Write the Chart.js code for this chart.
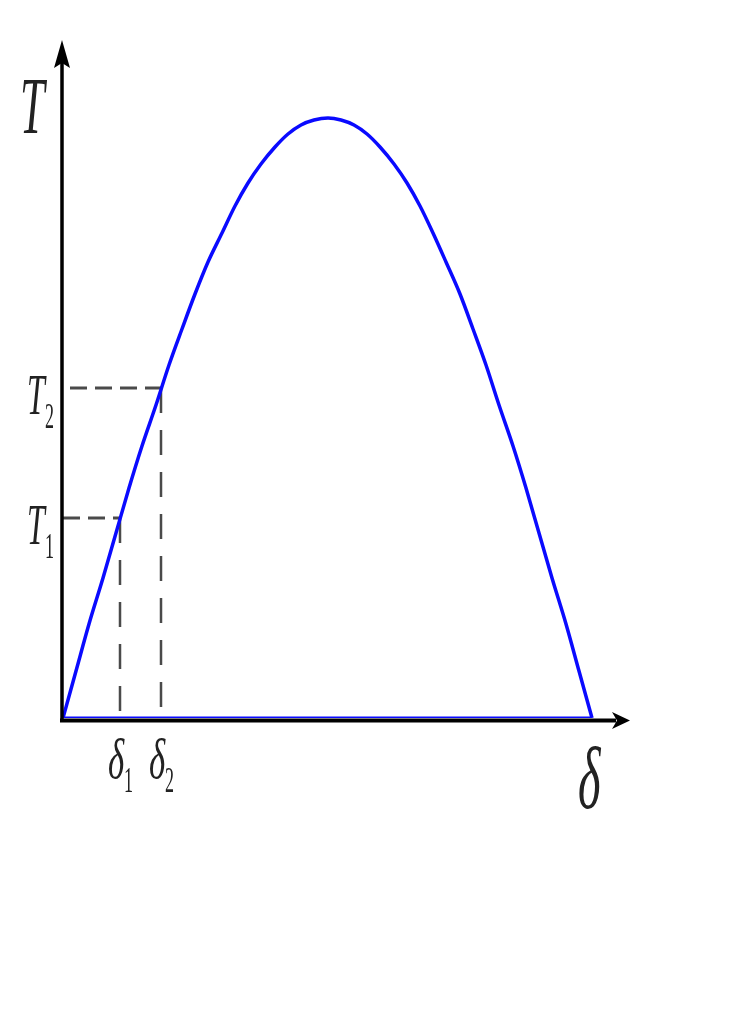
<!DOCTYPE html>
<html>
<head>
<meta charset="utf-8">
<script src="https://cdn.jsdelivr.net/npm/chart.js@4.4.1/dist/chart.umd.min.js"></script>
<style>
  html, body { margin: 0; padding: 0; background: #fff; }
  #wrap { width: 750px; height: 1024px; }
</style>
</head>
<body>
<div id="wrap"><canvas id="chart"></canvas></div>
<script>
// curve (delta in px-units from the origin, T in px-units up)
const deltaVals = [0, 13, 26, 40, 53, 66, 79, 93, 106, 119, 132, 145, 159, 172, 185, 198, 212, 225, 238, 251,
  265, 278, 291, 304, 317, 331, 344, 357, 370, 383, 397, 410, 423, 436, 450, 463, 476, 489, 503, 516, 529]
const torqueVals = [0, 47, 94, 140, 185, 230, 272, 313, 353, 389, 424, 456, 485, 512, 535, 554, 571, 584, 593, 598,
  600, 598, 593, 584, 571, 554, 535, 512, 485, 456, 424, 389, 353, 313, 272, 230, 185, 140, 94, 47, 0]

// marked operating points
const markDelta = [57, 98]
const markTorque = [200, 330]
const markNames = ["1", "2"]

const xMax = 567
const yMax = 678

const curve = deltaVals.map((d, i) => ({ x: d, y: torqueVals[i] }))
const baseline = [{ x: deltaVals[0], y: 0 }, { x: deltaVals[deltaVals.length - 1], y: 0 }]

const guideH = markDelta.map((d, i) => ({
  data: [{ x: i === 1 ? 7 : 0, y: markTorque[i] }, { x: d, y: markTorque[i] }],
  borderColor: "#4a4a4a",
  borderWidth: 3,
  borderDash: [17, 8],
  pointRadius: 0,
}))
const guideV = markDelta.map((d, i) => ({
  data: [{ x: d, y: markTorque[i] }, { x: d, y: 0 }],
  borderColor: "#4a4a4a",
  borderWidth: 2.5,
  borderDash: [25, 17],
  pointRadius: 0,
}))

const serif = "'Liberation Serif', 'DejaVu Serif', serif"

function italic(ctx, text, x, y, size, sx) {
  ctx.save()
  ctx.translate(x, y)
  ctx.scale(sx, 1)
  ctx.font = "italic " + size + "px " + serif
  ctx.fillText(text, 0, 0)
  ctx.restore()
}

function upright(ctx, text, x, y, size, sx) {
  ctx.save()
  ctx.translate(x, y)
  ctx.scale(sx, 1)
  ctx.font = size + "px " + serif
  ctx.fillText(text, 0, 0)
  ctx.restore()
}

const axesPlugin = {
  id: "axesPlugin",
  afterDatasetsDraw(chart) {
    const { ctx, scales } = chart
    const x0 = scales.x.getPixelForValue(0)
    const y0 = scales.y.getPixelForValue(0)
    const xEnd = scales.x.getPixelForValue(xMax)
    const yEnd = scales.y.getPixelForValue(yMax)

    ctx.save()
    ctx.strokeStyle = "#000"
    ctx.fillStyle = "#000"
    ctx.lineWidth = 3.5
    ctx.beginPath()
    ctx.moveTo(x0 - 1, y0 + 2)
    ctx.lineTo(x0 - 1, yEnd + 20)
    ctx.stroke()
    ctx.lineWidth = 4
    ctx.beginPath()
    ctx.moveTo(x0 - 3, y0 + 2.5)
    ctx.lineTo(xEnd - 14, y0 + 2.5)
    ctx.stroke()

    // arrow heads
    ctx.beginPath()
    ctx.moveTo(x0 - 1, yEnd)
    ctx.lineTo(x0 - 9, yEnd + 28)
    ctx.lineTo(x0 - 1, yEnd + 23)
    ctx.lineTo(x0 + 7, yEnd + 28)
    ctx.closePath()
    ctx.fill()
    ctx.beginPath()
    ctx.moveTo(xEnd, y0 + 2.5)
    ctx.lineTo(xEnd - 18, y0 - 6)
    ctx.lineTo(xEnd - 13, y0 + 2.5)
    ctx.lineTo(xEnd - 18, y0 + 11)
    ctx.closePath()
    ctx.fill()

    // labels
    ctx.fillStyle = "#222"
    ctx.textBaseline = "alphabetic"
    italic(ctx, "T", 20, 133, 80, 0.55)
    markTorque.forEach((t, i) => {
      const py = scales.y.getPixelForValue(t)
      italic(ctx, "T", 27, py + 26, 58, 0.55)
      upright(ctx, markNames[i], 45, py + 40, 36, 0.5)
    })
    markDelta.forEach((d, i) => {
      const px = scales.x.getPixelForValue(d)
      italic(ctx, "\u03b4", px - 12, 778, 58, 0.6)
      upright(ctx, markNames[i], px + 4, 792, 36, 0.5)
    })
    italic(ctx, "\u03b4", 578, 808, 88, 0.55)
    ctx.restore()
  },
}

function draw() {
  new Chart(document.getElementById("chart"), {
    type: "line",
    data: {
      datasets: [
        {
          data: curve,
          borderColor: "#0a0aff",
          borderWidth: 3.5,
          pointRadius: 0,
          cubicInterpolationMode: "monotone",
        },
        {
          data: baseline,
          borderColor: "#0a0aff",
          borderWidth: 3,
          pointRadius: 0,
        },
        ...guideH,
        ...guideV,
      ],
    },
    options: {
      responsive: true,
      maintainAspectRatio: false,
      animation: false,
      devicePixelRatio: 1,
      layout: { padding: { left: 63, top: 40, right: 120, bottom: 306 } },
      plugins: {
        legend: { display: false },
        tooltip: { enabled: false },
      },
      scales: {
        x: { type: "linear", min: 0, max: xMax, display: false },
        y: { type: "linear", min: 0, max: yMax, display: false },
      },
    },
    plugins: [axesPlugin],
  })
}

Promise.all([
  document.fonts.load("italic 80px 'Liberation Serif'"),
  document.fonts.load("36px 'Liberation Serif'"),
]).then(draw, draw)
</script>
</body>
</html>
